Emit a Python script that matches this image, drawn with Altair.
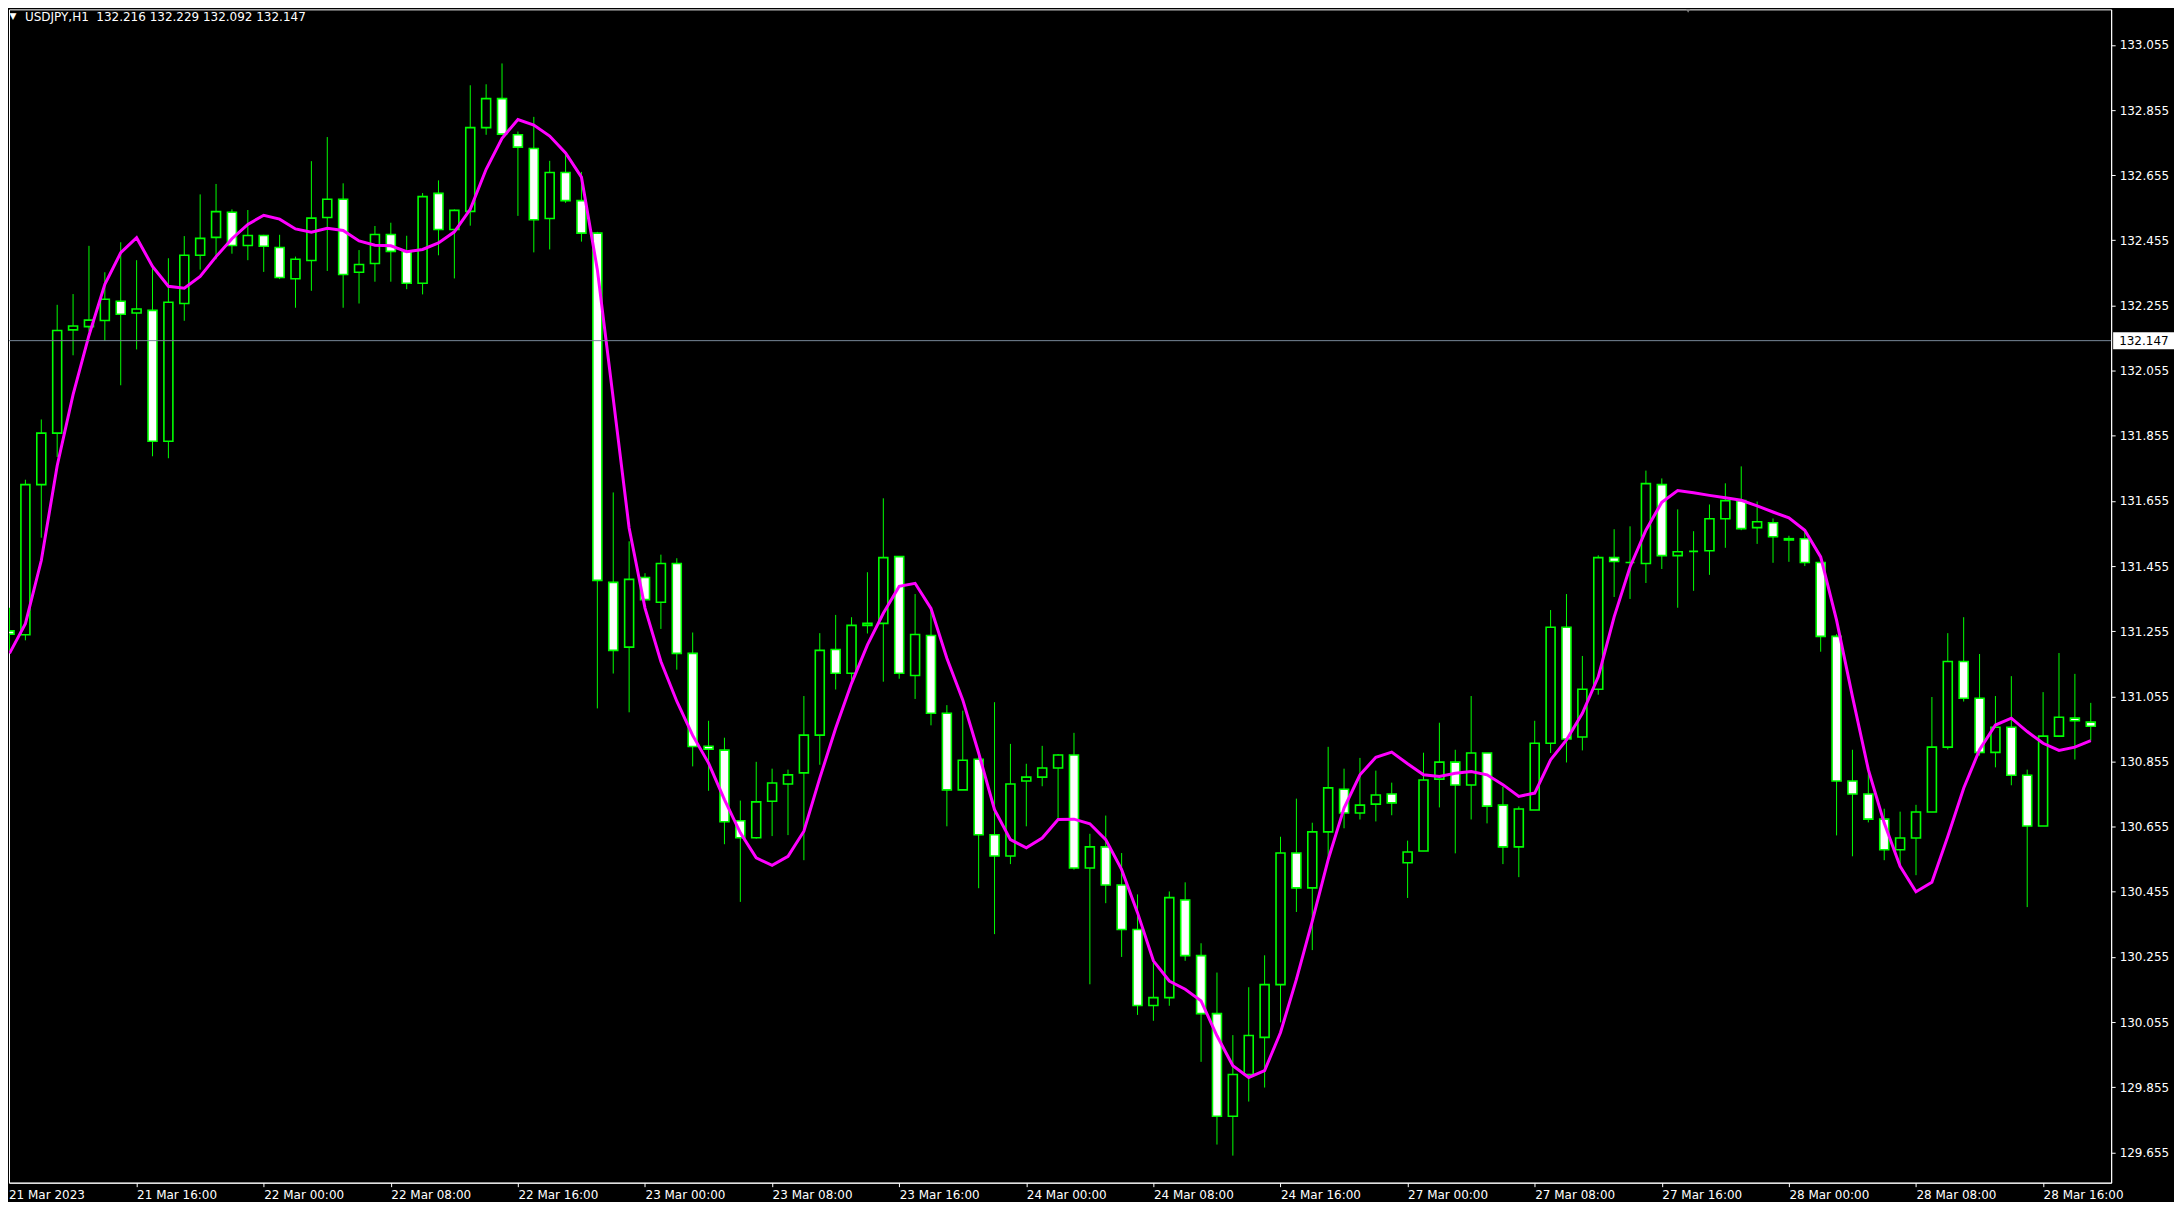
import altair as alt
import pandas as pd

SYMBOL = "USDJPY,H1"
HEADER_OHLC = ["132.216", "132.229", "132.092", "132.147"]
BID = 132.147

OPEN = [131.256, 131.244, 131.705, 131.863, 132.180, 132.190, 132.209, 132.268, 132.232, 132.240,
        131.838, 132.261, 132.409, 132.464, 132.541, 132.439, 132.470, 132.433, 132.337, 132.393,
        132.525, 132.581, 132.357, 132.384, 132.473, 132.421, 132.323, 132.599, 132.488, 132.544,
        132.801, 132.890, 132.779, 132.737, 132.522, 132.663, 132.577, 132.477, 131.405, 131.206,
        131.420, 131.344, 131.463, 131.187, 130.902, 130.890, 130.673, 130.621, 130.733, 130.786,
        130.820, 130.936, 131.199, 131.126, 131.273, 131.279, 131.484, 131.119, 131.242, 131.003,
        130.768, 130.862, 130.630, 130.565, 130.795, 130.807, 130.835, 130.875, 130.528, 130.593,
        130.476, 130.339, 130.106, 130.130, 130.430, 130.259, 130.081, 129.766, 129.894, 130.008,
        130.170, 130.574, 130.467, 130.639, 130.770, 130.697, 130.724, 130.755, 130.544, 130.580,
        130.801, 130.853, 130.783, 130.881, 130.721, 130.593, 130.706, 130.911, 131.267, 130.930,
        131.077, 131.481, 131.466, 131.463, 131.705, 131.487, 131.500, 131.502, 131.600, 131.656,
        131.573, 131.588, 131.539, 131.539, 131.466, 131.239, 130.795, 130.755, 130.678, 130.584,
        130.620, 130.700, 130.899, 131.162, 131.049, 130.883, 130.960, 130.813, 130.657, 130.933,
        130.988, 130.976]
HIGH = [131.327, 131.720, 131.905, 132.257, 132.290, 132.438, 132.357, 132.449, 132.394, 132.371,
        132.400, 132.468, 132.596, 132.628, 132.550, 132.548, 132.472, 132.472, 132.405, 132.698,
        132.772, 132.630, 132.425, 132.499, 132.509, 132.469, 132.600, 132.639, 132.550, 132.931,
        132.934, 132.998, 132.789, 132.834, 132.699, 132.723, 132.665, 132.481, 131.681, 131.531,
        131.433, 131.490, 131.479, 131.251, 130.980, 130.928, 130.735, 130.854, 130.833, 130.830,
        131.056, 131.249, 131.305, 131.298, 131.436, 131.663, 131.484, 131.369, 131.326, 131.028,
        131.011, 130.881, 131.037, 130.909, 130.848, 130.903, 130.878, 130.943, 130.633, 130.689,
        130.574, 130.447, 130.238, 130.456, 130.484, 130.297, 130.207, 130.015, 130.162, 130.260,
        130.624, 130.741, 130.667, 130.900, 130.833, 130.866, 130.827, 130.790, 130.612, 130.882,
        130.974, 130.891, 131.056, 130.881, 130.778, 130.717, 130.980, 131.320, 131.369, 131.179,
        131.488, 131.568, 131.577, 131.748, 131.724, 131.629, 131.562, 131.644, 131.709, 131.761,
        131.653, 131.601, 131.548, 131.560, 131.466, 131.246, 130.891, 130.842, 130.710, 130.701,
        130.722, 131.053, 131.249, 131.298, 131.185, 131.056, 131.117, 130.830, 131.068, 131.188,
        131.124, 131.035]
LOW = [131.190, 131.227, 131.542, 131.790, 132.102, 132.175, 132.146, 132.010, 132.120, 131.792,
       131.786, 132.208, 132.365, 132.397, 132.414, 132.394, 132.358, 132.336, 132.248, 132.300,
       132.361, 132.248, 132.261, 132.328, 132.328, 132.305, 132.289, 132.409, 132.338, 132.500,
       132.779, 132.781, 132.530, 132.418, 132.427, 132.570, 132.451, 131.018, 131.125, 131.006,
       131.350, 131.262, 131.137, 130.840, 130.765, 130.601, 130.424, 130.618, 130.626, 130.629,
       130.552, 130.845, 131.076, 131.094, 131.248, 131.100, 131.109, 131.047, 130.966, 130.656,
       130.768, 130.466, 130.325, 130.540, 130.656, 130.779, 130.677, 130.523, 130.171, 130.420,
       130.255, 130.077, 130.059, 130.105, 130.243, 129.933, 129.679, 129.645, 129.811, 129.854,
       130.054, 130.393, 130.276, 130.550, 130.650, 130.677, 130.671, 130.690, 130.436, 130.580,
       130.714, 130.573, 130.677, 130.665, 130.540, 130.500, 130.706, 130.881, 130.852, 130.889,
       131.060, 131.360, 131.354, 131.403, 131.446, 131.327, 131.379, 131.428, 131.511, 131.565,
       131.523, 131.465, 131.468, 131.455, 131.192, 130.628, 130.564, 130.668, 130.552, 130.534,
       130.506, 130.700, 130.892, 131.039, 130.873, 130.837, 130.782, 130.408, 130.657, 130.930,
       130.861, 130.919]
CLOSE = [131.246, 131.705, 131.863, 132.178, 132.192, 132.210, 132.274, 132.228, 132.244, 131.838,
         132.265, 132.409, 132.461, 132.543, 132.439, 132.470, 132.437, 132.341, 132.397, 132.523,
         132.581, 132.350, 132.381, 132.473, 132.421, 132.323, 132.589, 132.488, 132.547, 132.801,
         132.890, 132.781, 132.741, 132.518, 132.663, 132.577, 132.477, 131.411, 131.196, 131.414,
         131.352, 131.463, 131.187, 130.901, 130.893, 130.670, 130.621, 130.731, 130.789, 130.814,
         130.936, 131.196, 131.126, 131.273, 131.279, 131.481, 131.126, 131.245, 131.003, 130.768,
         130.859, 130.630, 130.565, 130.786, 130.807, 130.835, 130.875, 130.528, 130.593, 130.476,
         130.339, 130.106, 130.130, 130.437, 130.259, 130.081, 129.766, 129.894, 130.014, 130.170,
         130.574, 130.467, 130.639, 130.774, 130.697, 130.721, 130.752, 130.728, 130.577, 130.798,
         130.853, 130.783, 130.881, 130.718, 130.593, 130.709, 130.911, 131.267, 130.924, 131.077,
         131.481, 131.469, 131.466, 131.708, 131.487, 131.499, 131.500, 131.600, 131.656, 131.570,
         131.591, 131.545, 131.535, 131.466, 131.239, 130.795, 130.755, 130.678, 130.584, 130.620,
         130.700, 130.899, 131.162, 131.049, 130.883, 130.960, 130.813, 130.657, 130.933, 130.991,
         130.980, 130.963]
MA = [131.187, 131.278, 131.472, 131.763, 131.981, 132.163, 132.320, 132.417, 132.463, 132.375,
      132.314, 132.308, 132.344, 132.405, 132.460, 132.504, 132.532, 132.520, 132.490, 132.480,
      132.492, 132.485, 132.453, 132.440, 132.438, 132.420, 132.427, 132.447, 132.481, 132.550,
      132.673, 132.768, 132.826, 132.809, 132.775, 132.723, 132.649, 132.365, 131.969, 131.572,
      131.326, 131.162, 131.040, 130.935, 130.850, 130.738, 130.636, 130.559, 130.536, 130.564,
      130.641, 130.804, 130.957, 131.095, 131.213, 131.310, 131.393, 131.402, 131.325, 131.172,
      131.044, 130.881, 130.707, 130.615, 130.590, 130.620, 130.677, 130.678, 130.664, 130.615,
      130.523, 130.391, 130.243, 130.181, 130.156, 130.120, 130.013, 129.921, 129.885, 129.906,
      130.023, 130.186, 130.365, 130.554, 130.712, 130.814, 130.868, 130.884, 130.848, 130.814,
      130.809, 130.819, 130.824, 130.814, 130.784, 130.748, 130.758, 130.860, 130.921, 131.003,
      131.115, 131.299, 131.452, 131.565, 131.651, 131.687, 131.680, 131.672, 131.665, 131.657,
      131.640, 131.621, 131.603, 131.565, 131.483, 131.289, 131.054, 130.830, 130.666, 130.533,
      130.455, 130.484, 130.625, 130.773, 130.891, 130.967, 130.988, 130.947, 130.911, 130.889,
      130.899, 130.919]

# time labels, one every 8 bars starting at bar 0
X_LABELS = ["21 Mar 2023", "21 Mar 16:00", "22 Mar 00:00", "22 Mar 08:00", "22 Mar 16:00",
            "23 Mar 00:00", "23 Mar 08:00", "23 Mar 16:00", "24 Mar 00:00", "24 Mar 08:00",
            "24 Mar 16:00", "27 Mar 00:00", "27 Mar 08:00", "27 Mar 16:00", "28 Mar 00:00",
            "28 Mar 08:00", "28 Mar 16:00"]
LABEL_STEP = 8
Y_TICKS = [129.655, 129.855, 130.055, 130.255, 130.455, 130.655, 130.855, 131.055, 131.255,
           131.455, 131.655, 131.855, 132.055, 132.255, 132.455, 132.655, 132.855, 133.055]

W, H = 2107, 1176
X_DOMAIN = [0.28125, 131.96875]
Y_DOMAIN = [129.562, 133.164]

FONT = "DejaVu Sans"
FG = "#ffffff"
GREEN = "#00ff00"

df = pd.DataFrame({"i": list(range(len(OPEN))), "o": OPEN, "h": HIGH, "l": LOW,
                   "c": CLOSE, "ma": MA})

xscale = alt.Scale(domain=X_DOMAIN, nice=False, zero=False)
yscale = alt.Scale(domain=Y_DOMAIN, nice=False, zero=False)

label_arr = "[" + ",".join("'" + s + "'" for s in X_LABELS) + "]"
xaxis = alt.Axis(values=[k * LABEL_STEP for k in range(1, len(X_LABELS))],
                 labelExpr=label_arr + "[round(datum.value/" + str(LABEL_STEP) + ")]",
                 orient="bottom", title=None, grid=False, labelAlign="left",
                 labelBaseline="top", labelPadding=3, labelColor=FG, labelFont=FONT,
                 labelFontSize=12, tickColor=FG, tickSize=4, domainColor=FG,
                 labelOverlap=False, labelFlush=False, labelBound=False)
yaxis = alt.Axis(values=Y_TICKS, format=".3f", orient="right", title=None, grid=False,
                 labelPadding=4, labelColor=FG, labelFont=FONT, labelFontSize=12,
                 tickColor=FG, tickSize=4, domainColor=FG, labelOverlap=False,
                 labelFlush=False, labelBound=False)

base = alt.Chart(df)

wicks = base.mark_rule(color=GREEN, strokeWidth=1, clip=True).encode(
    x=alt.X("i:Q", scale=xscale, axis=xaxis),
    y=alt.Y("l:Q", scale=yscale, axis=yaxis),
    y2="h:Q",
)

bodies = base.mark_bar(size=9, stroke=GREEN, strokeWidth=1.6, clip=True).encode(
    x=alt.X("i:Q", scale=xscale, axis=xaxis),
    y=alt.Y("o:Q", scale=yscale, axis=yaxis),
    y2="c:Q",
    fill=alt.condition("datum.c < datum.o", alt.value("#ffffff"), alt.value("#000000")),
)

ma_line = base.mark_line(color="#ff00ff", strokeWidth=3, clip=True).encode(
    x=alt.X("i:Q", scale=xscale, axis=xaxis),
    y=alt.Y("ma:Q", scale=yscale, axis=yaxis),
)

bid_df = pd.DataFrame({"p": [BID], "t": [f"{BID:.3f}"]})
bid_line = alt.Chart(bid_df).mark_rule(color="#778899", strokeWidth=1).encode(
    y=alt.Y("p:Q", scale=yscale, axis=yaxis),
    x=alt.value(0), x2=alt.value(W),
)
bid_box = alt.Chart(bid_df).mark_rect(color="#ffffff", yOffset=-8.5, y2Offset=8.5).encode(
    y=alt.Y("p:Q", scale=yscale, axis=yaxis), y2="p:Q",
    x=alt.value(W + 2), x2=alt.value(W + 63),
)
bid_text = alt.Chart(bid_df).mark_text(align="left", baseline="middle", color="#000000",
                                       font=FONT, fontSize=12).encode(
    y=alt.Y("p:Q", scale=yscale, axis=yaxis),
    x=alt.value(W + 8), text="t:N",
)

header_df = pd.DataFrame({"t": [SYMBOL + "\u00a0 " + " ".join(HEADER_OHLC)], "tri": ["\u25bc"]})
header = alt.Chart(header_df).mark_text(align="left", baseline="alphabetic", color=FG,
                                        font=FONT, fontSize=12).encode(
    x=alt.value(16), y=alt.value(12), text="t:N")
tri = alt.Chart(header_df).mark_text(align="center", baseline="alphabetic", color=FG,
                                     font=FONT, fontSize=9).encode(
    x=alt.value(4), y=alt.value(10), text="tri:N")

first_df = pd.DataFrame({"t": [X_LABELS[0]]})
first_label = alt.Chart(first_df).mark_text(align="left", baseline="top", color=FG,
                                            font=FONT, fontSize=12).encode(
    x=alt.value(0), y=alt.value(H + 7), text="t:N")

shift_df = pd.DataFrame({"s": ["shift"]})
shift_mark = alt.Chart(shift_df).mark_point(shape="triangle-down", filled=True, size=60,
                                            color="#808080", opacity=1, clip=True).encode(
    x=alt.value(1683), y=alt.value(0))

chart = alt.layer(wicks, bodies, ma_line, bid_line, bid_box, bid_text, header, tri,
                  first_label, shift_mark).properties(
    width=W, height=H, padding=0, background="#000000"
).configure_view(stroke=FG, strokeWidth=1, fill="#000000")

chart.save("out.html", embed_options={"renderer": "svg", "actions": False})
